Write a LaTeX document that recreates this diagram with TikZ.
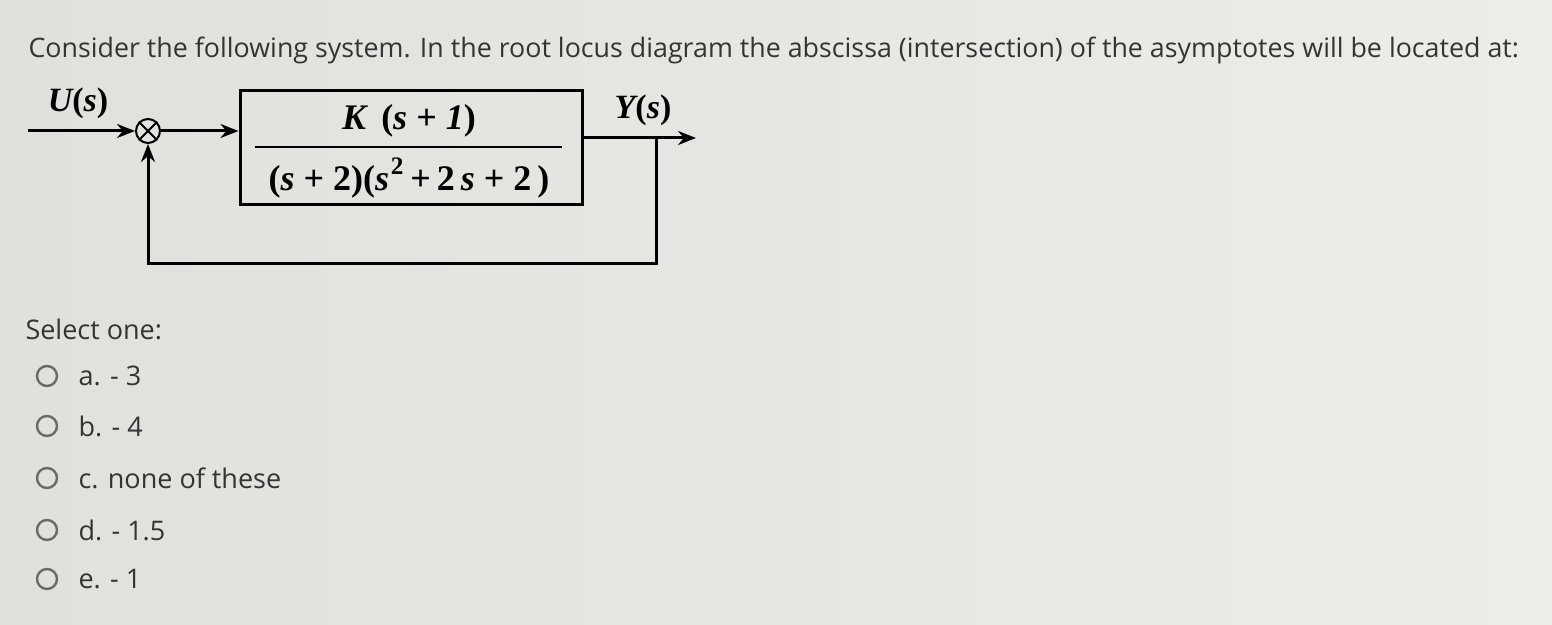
\documentclass[tikz,border=0pt]{standalone}
\usepackage{fontspec}
\setmainfont{Open Sans}
\newfontfamily\tnr{Liberation Serif}
\usetikzlibrary{positioning, arrows.meta, shapes.geometric}
\definecolor{bgleft}{RGB}{224,224,221}
\definecolor{bgright}{RGB}{236,236,234}
\definecolor{txt}{RGB}{52,52,52}
\definecolor{radio}{RGB}{105,105,105}

\begin{document}
\begin{tikzpicture}[x=0.5pt, y=-0.5pt, line width=1.5pt, >={Stealth[length=9pt, width=7pt]},
    lbl/.style={font=\tnr\bfseries\fontsize{17}{19}\selectfont, inner sep=0},
    opt/.style={anchor=west, text=txt, font=\fontsize{13.5}{16}\selectfont, inner sep=0}]
    \shade [left color=bgleft, right color=bgright] (0,0) rectangle (1552,625);
    \useasboundingbox (0,0) rectangle (1552,625);
    \node (Q) [anchor=base west, text=txt, inner sep=0, font=\fontsize{13.4}{16}\selectfont] at (27,58) {Consider the following system. In the root locus diagram the abscissa (intersection) of the asymptotes will be located at:};
    \node (G) [draw, minimum width=171pt, minimum height=57pt] at (411,148) {};
    \node (num) [lbl, font=\tnr\bfseries\fontsize{18}{20}\selectfont] at (409,121) {\itshape K\upshape\ \,(\itshape s\upshape\ + \itshape 1\upshape)};
    \node (den) [lbl, font=\tnr\bfseries\fontsize{18}{20}\selectfont] at (409,178) {(\itshape s\upshape\ + 2)(\itshape s\/\upshape\kern0.05em\raisebox{0.12em}{\textsuperscript{2}}\,+\,2\,\itshape s\upshape\ + 2\,)};
    \draw [line width=1.2pt] (255,147) -- (562,147);
    \node (sum) [circle, draw, line width=1pt, minimum size=12pt, inner sep=0] at (148,131) {};
    \draw [line width=1pt] (sum.north west) -- (sum.south east) (sum.north east) -- (sum.south west);
    \node (U) [lbl] at (78,103) {\itshape U\upshape(\itshape s\upshape)};
    \node (Y) [lbl] at (643,110) {\itshape Y\upshape(\itshape s\upshape)};
    \coordinate (in) at (28,131);
    \coordinate (out) at (696,138);
    \coordinate (fb) at (656,138);
    \coordinate (fbb) at (656,264);
    \draw [->] (in) -- (sum);
    \draw [->] (sum) -- (sum -| G.west);
    \draw [->] (G.east |- out) -- (out);
    \draw [->] (fb) -- (fbb) -| (sum.south);
    \node (sel) [opt] at (24,329) {Select one:};
    \foreach \y/\t in {376/a. - 3, 426/b. - 4, 478/c. none of these, 530/d. - 1.5, 579/e. - 1} {
        \node (r\y) [circle, draw=radio, line width=1.2pt, minimum size=10pt, inner sep=0] at (47,\y) {};
        \node (o\y) [opt] at (77,\y) {\t};
    }
\end{tikzpicture}
\end{document}
